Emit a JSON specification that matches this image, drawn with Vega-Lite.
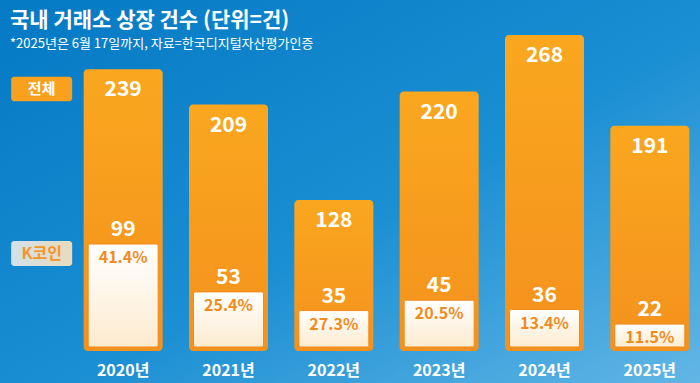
{
  "$schema": "https://vega.github.io/schema/vega-lite/v6.json",
  "width": 700,
  "height": 383,
  "autosize": {"type": "none"},
  "padding": 0,
  "background": "#1787cf",
  "config": {
    "font": "Noto Sans CJK KR",
    "view": {
      "stroke": null,
      "fill": {
        "gradient": "linear",
        "x1": 0, "y1": 0, "x2": 1, "y2": 1,
        "stops": [
          {"offset": 0, "color": "#0479c4"},
          {"offset": 0.55, "color": "#1b8fd3"},
          {"offset": 1, "color": "#62b6e5"}
        ]
      }
    }
  },
  "title": {
    "text": "국내 거래소 상장 건수 (단위=건)",
    "subtitle": "*2025년은 6월 17일까지, 자료=한국디지털자산평가인증",
    "anchor": "start",
    "frame": "group",
    "orient": "top",
    "offset": -51,
    "dx": 10,
    "color": "white",
    "fontSize": 21,
    "fontWeight": "bold",
    "subtitleColor": "white",
    "subtitleFontSize": 13,
    "subtitleFontWeight": "normal",
    "subtitlePadding": 7
  },
  "data": {
    "values": [
      {"year": "2020년", "total": 239, "kcoin": 99, "share": "41.4%"},
      {"year": "2021년", "total": 209, "kcoin": 53, "share": "25.4%"},
      {"year": "2022년", "total": 128, "kcoin": 35, "share": "27.3%"},
      {"year": "2023년", "total": 220, "kcoin": 45, "share": "20.5%"},
      {"year": "2024년", "total": 268, "kcoin": 36, "share": "13.4%"},
      {"year": "2025년", "total": 191, "kcoin": 22, "share": "11.5%"}
    ]
  },
  "encoding": {
    "x": {
      "field": "year",
      "type": "ordinal",
      "sort": null,
      "title": null,
      "scale": {"range": [70.5, 702.5], "paddingInner": 0.25, "paddingOuter": 0.125},
      "axis": {
        "orient": "bottom",
        "offset": -29,
        "domain": false,
        "ticks": false,
        "labelAngle": 0,
        "labelColor": "white",
        "labelFontSize": 16,
        "labelFontWeight": "bold",
        "labelPadding": 8
      }
    }
  },
  "layer": [
    {
      "mark": {
        "type": "bar",
        "cornerRadius": 4,
        "fill": {
          "gradient": "linear",
          "x1": 0, "y1": 0, "x2": 0, "y2": 1,
          "stops": [
            {"offset": 0, "color": "#faa71f"},
            {"offset": 1, "color": "#f4911d"}
          ]
        }
      },
      "encoding": {
        "y": {"field": "total", "type": "quantitative", "axis": null,
              "scale": {"domain": [0, 268], "range": [351, 35], "nice": false, "zero": true}},
        "y2": {"datum": 0}
      }
    },
    {
      "mark": {
        "type": "bar",
        "width": {"band": 0.886},
        "cornerRadius": 2,
        "stroke": "#ee8a1f",
        "strokeWidth": 1,
        "fill": {
          "gradient": "linear",
          "x1": 0, "y1": 0, "x2": 0, "y2": 1,
          "stops": [
            {"offset": 0, "color": "#ffffff"},
            {"offset": 1, "color": "#fdebcf"}
          ]
        }
      },
      "encoding": {
        "y": {"field": "kcoin", "type": "quantitative", "axis": null,
              "scale": {"domain": [0, 100], "range": [347, 243], "nice": false, "zero": true}},
        "y2": {"datum": 0}
      }
    },
    {
      "mark": {"type": "text", "color": "white", "fontSize": 21, "fontWeight": "bold", "baseline": "alphabetic", "dy": 27},
      "encoding": {
        "y": {"field": "total", "type": "quantitative", "axis": null,
              "scale": {"domain": [0, 268], "range": [351, 35], "nice": false, "zero": true}},
        "text": {"field": "total", "type": "quantitative"}
      }
    },
    {
      "mark": {"type": "text", "color": "white", "fontSize": 21, "fontWeight": "bold", "baseline": "alphabetic", "dy": -8},
      "encoding": {
        "y": {"field": "kcoin", "type": "quantitative", "axis": null,
              "scale": {"domain": [0, 100], "range": [347, 243], "nice": false, "zero": true}},
        "text": {"field": "kcoin", "type": "quantitative"}
      }
    },
    {
      "mark": {"type": "text", "color": "#f08c1f", "fontSize": 16, "fontWeight": "bold", "baseline": "alphabetic", "dy": 19},
      "encoding": {
        "y": {"field": "kcoin", "type": "quantitative", "axis": null,
              "scale": {"domain": [0, 100], "range": [347, 243], "nice": false, "zero": true}},
        "text": {"field": "share", "type": "nominal"}
      }
    },
    {
      "transform": [{"filter": "datum.year == '2020년'"}],
      "mark": {"type": "bar", "width": 61, "xOffset": -81.5, "yOffset": 7.5, "y2Offset": 32, "cornerRadius": 3, "fill": "#f7a11f"},
      "encoding": {
        "y": {"field": "total", "type": "quantitative", "axis": null,
              "scale": {"domain": [0, 268], "range": [351, 35], "nice": false, "zero": true}},
        "y2": {"field": "total"}
      }
    },
    {
      "transform": [{"filter": "datum.year == '2020년'"}],
      "mark": {"type": "text", "text": "전체", "color": "white", "fontSize": 15, "fontWeight": "bold", "baseline": "middle", "dx": -81.5, "dy": 19.5},
      "encoding": {
        "y": {"field": "total", "type": "quantitative", "axis": null,
              "scale": {"domain": [0, 268], "range": [351, 35], "nice": false, "zero": true}}
      }
    },
    {
      "transform": [{"filter": "datum.year == '2020년'"}],
      "mark": {
        "type": "bar", "width": 61, "xOffset": -81.5, "yOffset": -3, "y2Offset": 22, "cornerRadius": 3,
        "fill": {
          "gradient": "linear",
          "x1": 0, "y1": 0, "x2": 1, "y2": 0,
          "stops": [
            {"offset": 0, "color": "#d2e1eb"},
            {"offset": 1, "color": "#e9dbba"}
          ]
        }
      },
      "encoding": {
        "y": {"field": "kcoin", "type": "quantitative", "axis": null,
              "scale": {"domain": [0, 100], "range": [347, 243], "nice": false, "zero": true}},
        "y2": {"field": "kcoin"}
      }
    },
    {
      "transform": [{"filter": "datum.year == '2020년'"}],
      "mark": {"type": "text", "text": "K코인", "color": "#f3962a", "fontSize": 16, "fontWeight": "bold", "baseline": "middle", "dx": -81.5, "dy": 9.5},
      "encoding": {
        "y": {"field": "kcoin", "type": "quantitative", "axis": null,
              "scale": {"domain": [0, 100], "range": [347, 243], "nice": false, "zero": true}}
      }
    }
  ],
  "resolve": {"scale": {"y": "independent"}}
}
